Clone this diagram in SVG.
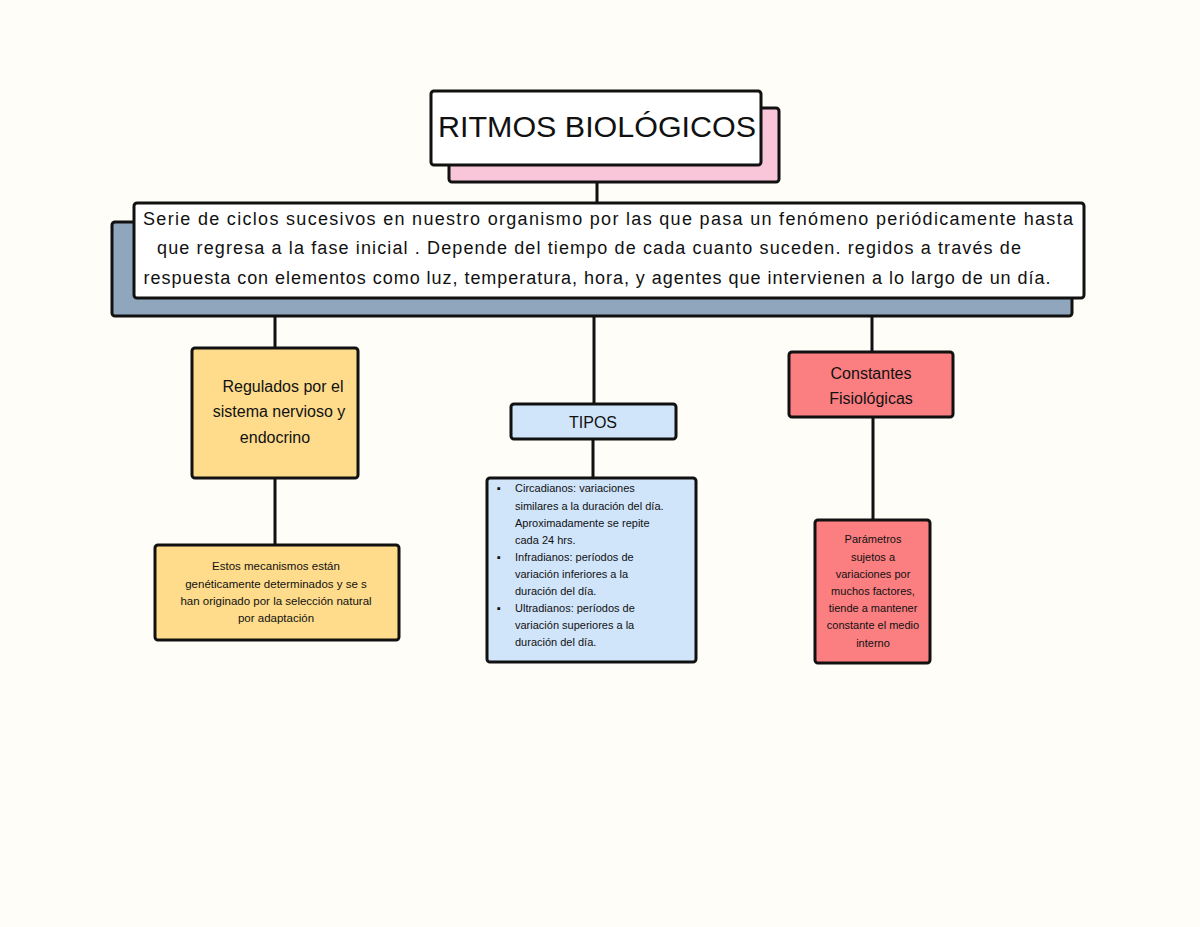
<svg xmlns="http://www.w3.org/2000/svg" width="1200" height="927" viewBox="0 0 1200 927">
<style>
.b{stroke:#111;stroke-width:3;}
text{font-family:"Liberation Sans",Arial,sans-serif;fill:#111;text-anchor:middle;}
.l{stroke:#111;stroke-width:3;fill:none;}
</style>
<rect width="1200" height="927" fill="#fefdf8"/>
<g id="connectors">
<path class="l" d="M597 183V205M275 316V348M594 316V404M872 316V352M593 440V478M275 478V545M873 417V520"/>
</g>
<g id="title">
<rect class="b" x="449" y="108" width="330" height="74" rx="3" fill="#f9c5d8"/>
<rect class="b" x="431" y="91" width="330" height="74" rx="3" fill="#fff"/>
<text x="597" y="137" font-size="30" textLength="318" lengthAdjust="spacingAndGlyphs">RITMOS BIOLÓGICOS</text>
</g>
<g id="def">
<rect class="b" x="112" y="222" width="960" height="94" rx="3" fill="#8fa6bd"/>
<rect class="b" x="134" y="203" width="950" height="95" rx="3" fill="#fff"/>
<text font-size="18" lengthAdjust="spacingAndGlyphs"><tspan x="608" y="225" textLength="930">Serie de ciclos sucesivos  en  nuestro organismo por las que pasa un fenómeno periódicamente hasta</tspan></text>
<text font-size="18"><tspan x="589" y="254" textLength="864">que regresa a la fase inicial . Depende del tiempo de cada cuanto suceden. regidos a través de</tspan></text>
<text font-size="18"><tspan x="597" y="284" textLength="907">respuesta con elementos como luz, temperatura, hora, y agentes que intervienen a lo largo de un día.</tspan></text>
</g>
<g id="reg">
<rect class="b" x="192" y="348" width="166" height="130" rx="3" fill="#fedc8c"/>
<text font-size="16"><tspan x="283" y="392">Regulados por el</tspan><tspan x="279" y="417">sistema nervioso y</tspan><tspan x="275" y="443">endocrino</tspan></text>
</g>
<g id="est">
<rect class="b" x="155" y="545" width="244" height="95" rx="3" fill="#fedc8c"/>
<text font-size="11.5"><tspan x="276" y="570">Estos mecanismos están</tspan><tspan x="276" y="588">genéticamente determinados y se s</tspan><tspan x="276" y="605">han originado por la selección natural</tspan><tspan x="276" y="622">por adaptación</tspan></text>
</g>
<g id="tipos">
<rect class="b" x="511" y="404" width="165" height="35" rx="3" fill="#d0e4fa"/>
<text x="593" y="428" font-size="16">TIPOS</text>
</g>
<g id="list">
<rect class="b" x="487" y="478" width="209" height="184" rx="3" fill="#d0e4fa"/>
<text font-size="11" style="text-anchor:start"><tspan x="497" y="492">▪</tspan><tspan x="515" y="492">Circadianos: variaciones</tspan><tspan x="515" y="510">similares a la duración del día.</tspan><tspan x="515" y="527">Aproximadamente se repite</tspan><tspan x="515" y="544">cada 24 hrs.</tspan><tspan x="497" y="561">▪</tspan><tspan x="515" y="561">Infradianos: períodos de</tspan><tspan x="515" y="578">variación inferiores a la</tspan><tspan x="515" y="595">duración del día.</tspan><tspan x="497" y="612">▪</tspan><tspan x="515" y="612">Ultradianos: períodos de</tspan><tspan x="515" y="629">variación superiores a la</tspan><tspan x="515" y="646">duración del día.</tspan></text>
</g>
<g id="const">
<rect class="b" x="789" y="352" width="164" height="65" rx="3" fill="#fb7e80"/>
<text font-size="16"><tspan x="871" y="379">Constantes</tspan><tspan x="871" y="404">Fisiológicas</tspan></text>
</g>
<g id="param">
<rect class="b" x="815" y="520" width="115" height="143" rx="3" fill="#fb7e80"/>
<text font-size="11"><tspan x="873" y="543">Parámetros</tspan><tspan x="873" y="561">sujetos a</tspan><tspan x="873" y="578">variaciones por</tspan><tspan x="873" y="595">muchos factores,</tspan><tspan x="873" y="612">tiende a mantener</tspan><tspan x="873" y="629">constante el medio</tspan><tspan x="873" y="647">interno</tspan></text>
</g>
</svg>
